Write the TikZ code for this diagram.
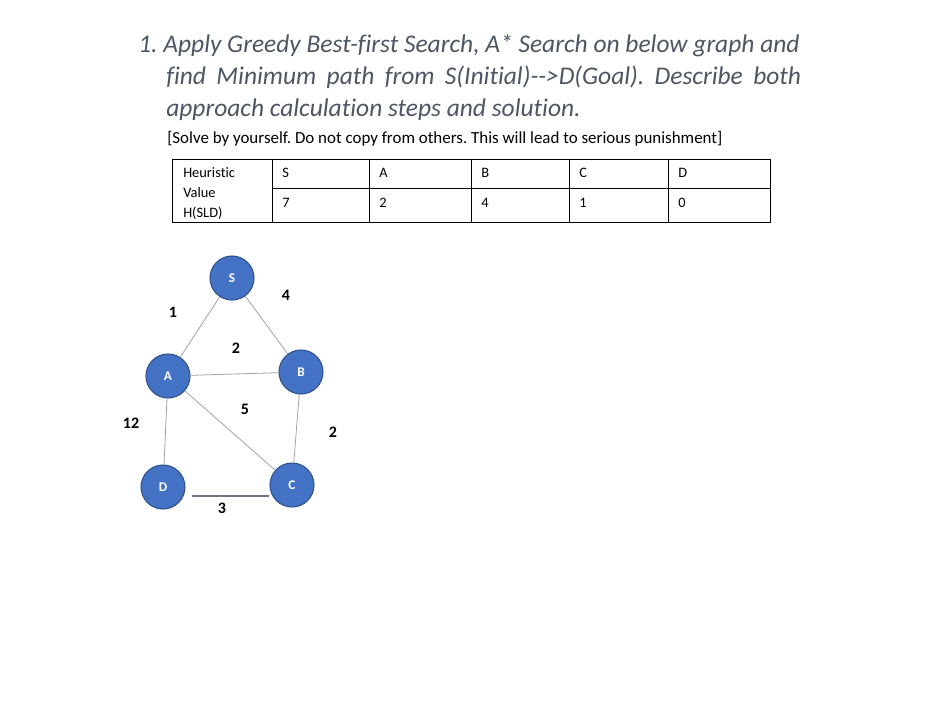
\documentclass[tikz,border=0pt]{standalone}
\usepackage{fontspec}
\setmainfont{Carlito}[Ligatures=NoCommon]
\usepackage{tikz}
\usepackage{xcolor}
\usetikzlibrary{shapes, arrows.meta, positioning}
\frenchspacing

\definecolor{titlegray}{RGB}{78,86,102}
\definecolor{nodeblue}{RGB}{68,114,196}
\definecolor{nodeedge}{RGB}{47,82,143}
\definecolor{edgegray}{RGB}{160,163,168}
\definecolor{basegray}{RGB}{112,118,128}

\begin{document}
\begin{tikzpicture}[x=0.75pt, y=-0.75pt,
    vertex/.style={circle, fill=nodeblue, draw=nodeedge, line width=0.8pt, minimum size=33pt,
                   inner sep=0pt, text=white, font=\fontsize{10}{11}\selectfont\bfseries},
    cost/.style={font=\fontsize{12}{13}\selectfont\bfseries},
    link/.style={draw=edgegray, line width=0.6pt},
    cell/.style={anchor=base west, inner sep=0pt, font=\fontsize{10.8}{12}\selectfont},
    titleline/.style={anchor=base west, inner sep=0pt, text=titlegray,
                      font=\fontsize{19.1}{22}\selectfont\itshape}]
        \useasboundingbox[fill=white] (0,0) rectangle (945,704);

        \node[titleline] (t1) at (138,52) {1. Apply Greedy Best-first Search, A* Search on below graph and};
        \node[titleline] (t2) at (166,84) {\makebox[476.25pt][s]{find Minimum path from S(Initial)-{}-{}>D(Goal). Describe both}};
        \node[titleline] (t3) at (166,116) {approach calculation steps and solution.};
        \node[anchor=base west, inner sep=0pt, font=\fontsize{12.7}{14}\selectfont] (note) at (167,143)
            {[Solve by yourself. Do not copy from others. This will lead to serious punishment]};

        \draw[line width=0.6pt] (172,159) rectangle (770,222);
        \draw[line width=0.6pt] (272,188) -- (770,188);
        \foreach \x in {272, 369, 471, 569, 668} {
            \draw[line width=0.6pt] (\x,159) -- (\x,222);
        }
        \node[cell] (h1) at (183,177) {Heuristic};
        \node[cell] (h2) at (183,197) {Value};
        \node[cell] (h3) at (183,217) {H(SLD)};
        \foreach \x/\n/\v in {282/S/7, 379/A/2, 481/B/4, 579/C/1, 678/D/0} {
            \node[cell] (n\n) at (\x,177) {\n};
            \node[cell] (v\n) at (\x,207) {\v};
        }

        \node[vertex] (S) at (232,278) {S};
        \node[vertex] (A) at (168,376) {A};
        \node[vertex] (B) at (301,372) {B};
        \node[vertex] (D) at (163,487) {D};
        \node[vertex] (C) at (292,485) {C};

        \draw[link] (S) -- (A);
        \draw[link] (S) -- (B);
        \draw[link] (A) -- (B);
        \draw[link] (A) -- (C);
        \draw[link] (A) -- (D);
        \draw[link] (B) -- (C);
        \coordinate (dc) at ([shift={(6,9)}]D.east);
        \draw[draw=basegray, line width=1.3pt] (dc) -- (dc -| C.west);

        \node[cost] (wSA) at (173,312) {1};
        \node[cost] (wSB) at (286,295) {4};
        \node[cost] (wAB) at (236,348) {2};
        \node[cost] (wAC) at (245,409) {5};
        \node[cost] (wAD) at (131,423) {12};
        \node[cost] (wBC) at (333,432) {2};
        \node[cost] (wDC) at (222,508) {3};
    \end{tikzpicture}
\end{document}
